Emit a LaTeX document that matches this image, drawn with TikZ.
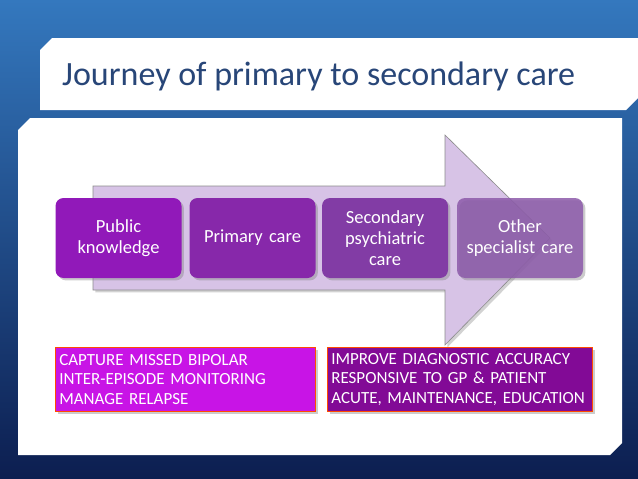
\documentclass[tikz,border=0pt]{standalone}
\usepackage{fontspec}
\setmainfont{Carlito}
\usetikzlibrary{shadows}
\definecolor{bgtop}{RGB}{52,120,190}
\definecolor{bgbot}{RGB}{12,30,80}
\definecolor{titleblue}{RGB}{40,70,120}
\definecolor{arrowfill}{RGB}{215,195,230}
\definecolor{stepA}{RGB}{145,25,185}
\definecolor{stepB}{RGB}{135,40,170}
\definecolor{stepC}{RGB}{130,60,165}
\definecolor{stepD}{RGB}{140,90,170}
\definecolor{noteA}{RGB}{200,20,230}
\definecolor{noteB}{RGB}{130,10,150}
\tikzset{
  carebox/.style={rounded corners=8pt,minimum width=126pt,minimum height=80pt,
    text=white,font=\fontsize{18.5}{21}\selectfont,align=center,text width=122pt,
    inner sep=2pt,drop shadow={opacity=0.4}},
  note/.style={anchor=north west,text=white,font=\fontsize{17}{19.5}\selectfont,
    align=left,inner sep=4pt,draw=orange!60!red,line width=0.6pt,drop shadow={opacity=0.4}}
}
\begin{document}
\begin{tikzpicture}[x=1pt,y=-1pt]
  \useasboundingbox (0,0) rectangle (638,479);
  \shade[top color=bgtop,bottom color=bgbot] (0,0) rectangle (638,479);
  % panels
  \fill[white] (52,38) -- (638,38) -- (638,98) -- (626,110) -- (40,110) -- (40,50) -- cycle;
  \fill[white] (30,118) -- (622,118) -- (622,443) -- (610,455) -- (18,455) -- (18,130) -- cycle;
  \node[anchor=west,text=titleblue,font=\fontsize{34}{38}\selectfont,inner sep=0pt] (title) at (62,76) {Journey of primary to secondary care};
  % big arrow
  \fill[arrowfill,draw=black!45,line width=0.6pt,drop shadow={opacity=0.35}]
    (93,186) -- (445,186) -- (445,135) -- (550,238) -- (445,345) -- (445,290) -- (93,290) -- cycle;
  % steps
  \node[carebox,fill=stepA] (pub) at (118.5,238) {Public\\knowledge};
  \node[carebox,fill=stepB] (prim) at (252.5,238) {Primary care};
  \node[carebox,fill=stepC] (sec) at (385,238) {Secondary\\psychiatric\\care};
  \node[carebox,fill=stepD,fill opacity=0.85,text opacity=1] (oth) at (520,238) {Other\\specialist care};
  % notes
  \node[note,fill=noteA,minimum width=260pt,minimum height=64pt,text width=252pt] (capture) at (55,347)
    {CAPTURE MISSED BIPOLAR\\INTER-EPISODE MONITORING\\MANAGE RELAPSE};
  \node[note,fill=noteB,minimum width=265pt,minimum height=64pt,text width=257pt] (improve) at (327,347)
    {IMPROVE DIAGNOSTIC ACCURACY\\RESPONSIVE TO GP \& PATIENT\\ACUTE, MAINTENANCE, EDUCATION};
\end{tikzpicture}
\end{document}
